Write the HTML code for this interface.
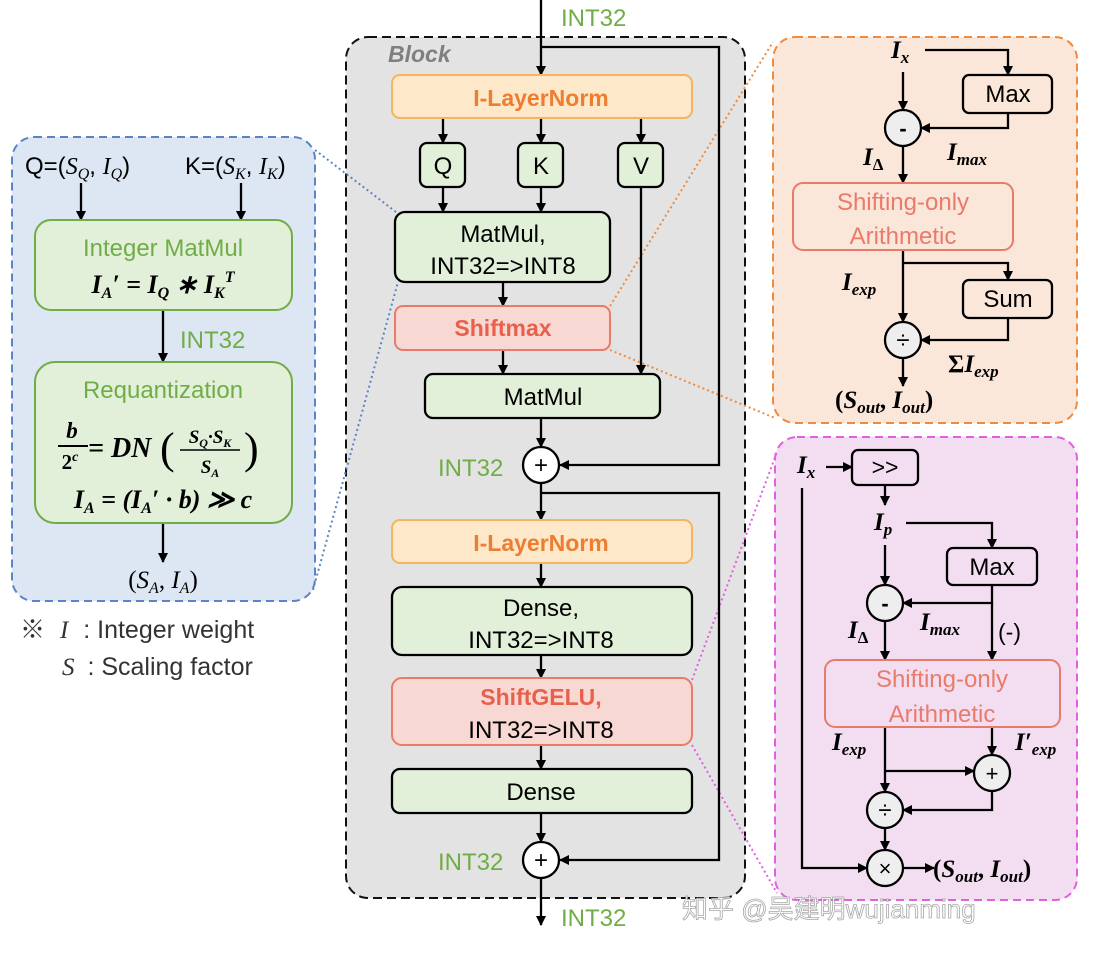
<!DOCTYPE html>
<html><head><meta charset="utf-8"><style>
html,body{margin:0;padding:0;background:#fff;}
svg{display:block;}
text{font-family:"Liberation Sans","Noto Sans CJK SC",sans-serif;}
.m{font-family:"Liberation Serif",serif;font-style:italic;}
.s{font-family:"Liberation Serif",serif;}
</style></head><body>
<svg width="1094" height="956" viewBox="0 0 1094 956" xmlns="http://www.w3.org/2000/svg">
<defs>
<marker id="a" markerWidth="10" markerHeight="10" refX="9" refY="5" orient="auto" markerUnits="userSpaceOnUse"><path d="M0,0 L10,5 L0,10 z" fill="#000"/></marker>
</defs>
<g stroke-width="2" fill="none">
<rect x="12" y="137" width="303" height="464" rx="22" fill="#dde6f3" stroke="#5b84c4" stroke-dasharray="8,5"/>
<rect x="346" y="37" width="399" height="861" rx="22" fill="#e3e3e3" stroke="#111" stroke-dasharray="9,5"/>
<rect x="773" y="37" width="304" height="386" rx="22" fill="#fbe6da" stroke="#ef8a3e" stroke-dasharray="8,5"/>
<rect x="775" y="437" width="302" height="463" rx="22" fill="#f2def0" stroke="#e060e0" stroke-dasharray="8,5"/>
<line x1="315" y1="150" x2="396" y2="212" stroke="#5b84c4" stroke-dasharray="2,3"/>
<line x1="313" y1="590" x2="398" y2="282" stroke="#5b84c4" stroke-dasharray="2,3"/>
<line x1="610" y1="306" x2="773" y2="42" stroke="#ef8a3e" stroke-dasharray="2,3"/>
<line x1="610" y1="350" x2="775" y2="418" stroke="#ef8a3e" stroke-dasharray="2,3"/>
<line x1="692" y1="680" x2="777" y2="452" stroke="#e060e0" stroke-dasharray="2,3"/>
<line x1="692" y1="745" x2="777" y2="893" stroke="#e060e0" stroke-dasharray="2,3"/>
</g>
<g stroke="#000" stroke-width="2.3" fill="none">
<line x1="541" y1="0" x2="541" y2="75" marker-end="url(#a)"/>
<polyline points="541,47 719,47 719,465 560,465" marker-end="url(#a)"/>
<line x1="443" y1="118" x2="443" y2="143" marker-end="url(#a)"/>
<line x1="541" y1="118" x2="541" y2="143" marker-end="url(#a)"/>
<line x1="641" y1="118" x2="641" y2="143" marker-end="url(#a)"/>
<line x1="443" y1="187" x2="443" y2="212" marker-end="url(#a)"/>
<line x1="541" y1="187" x2="541" y2="212" marker-end="url(#a)"/>
<line x1="641" y1="187" x2="641" y2="374" marker-end="url(#a)"/>
<line x1="503" y1="282" x2="503" y2="306" marker-end="url(#a)"/>
<line x1="503" y1="350" x2="503" y2="374" marker-end="url(#a)"/>
<line x1="541" y1="418" x2="541" y2="447" marker-end="url(#a)"/>
<line x1="541" y1="483" x2="541" y2="520" marker-end="url(#a)"/>
<polyline points="541,493 719,493 719,860 560,860" marker-end="url(#a)"/>
<line x1="541" y1="563" x2="541" y2="587" marker-end="url(#a)"/>
<line x1="541" y1="655" x2="541" y2="678" marker-end="url(#a)"/>
<line x1="541" y1="745" x2="541" y2="769" marker-end="url(#a)"/>
<line x1="541" y1="813" x2="541" y2="842" marker-end="url(#a)"/>
<line x1="541" y1="878" x2="541" y2="925" marker-end="url(#a)"/>
</g>
<rect x="392" y="75" width="300" height="43" rx="8" fill="#fde9c9" stroke="#f5b45e" stroke-width="2"/>
<text x="541" y="106" font-size="23" font-weight="bold" fill="#ed7d31" text-anchor="middle">I-LayerNorm</text>
<g fill="#e2f0d9" stroke="#000" stroke-width="2.3">
<rect x="420" y="143" width="45" height="44" rx="7"/>
<rect x="518" y="143" width="45" height="44" rx="7"/>
<rect x="618" y="143" width="45" height="44" rx="7"/>
<rect x="395" y="212" width="215" height="70" rx="10"/>
<rect x="425" y="374" width="235" height="44" rx="8"/>
<rect x="392" y="587" width="300" height="68" rx="10"/>
<rect x="392" y="769" width="300" height="44" rx="8"/>
</g>
<g font-size="24" text-anchor="middle" fill="#000">
<text x="443" y="174">Q</text><text x="541" y="174">K</text><text x="641" y="174">V</text>
<text x="503" y="242">MatMul,</text><text x="503" y="274">INT32=&gt;INT8</text>
<text x="543" y="405">MatMul</text>
<text x="541" y="616">Dense,</text><text x="541" y="648">INT32=&gt;INT8</text>
<text x="541" y="800">Dense</text>
</g>
<rect x="395" y="306" width="215" height="44" rx="8" fill="#f8d8d2" stroke="#ea7a6a" stroke-width="2"/>
<text x="503" y="336" font-size="23" font-weight="bold" fill="#e8604c" text-anchor="middle">Shiftmax</text>
<rect x="392" y="520" width="300" height="43" rx="8" fill="#fde9c9" stroke="#f5b45e" stroke-width="2"/>
<text x="541" y="551" font-size="23" font-weight="bold" fill="#ed7d31" text-anchor="middle">I-LayerNorm</text>
<rect x="392" y="678" width="300" height="67" rx="10" fill="#f8d8d2" stroke="#ea7a6a" stroke-width="2"/>
<text x="541" y="705" font-size="23" font-weight="bold" fill="#e8604c" text-anchor="middle">ShiftGELU,</text>
<text x="541" y="738" font-size="24" fill="#000" text-anchor="middle">INT32=&gt;INT8</text>
<g fill="#fff" stroke="#000" stroke-width="2.3"><circle cx="541" cy="465" r="18"/><circle cx="541" cy="860" r="18"/></g>
<g font-size="24" text-anchor="middle"><text x="541" y="473">+</text><text x="541" y="868">+</text></g>
<text x="388" y="62" font-size="23" font-weight="bold" font-style="italic" fill="#7f7f7f">Block</text>
<g font-size="24" fill="#70ad47">
<text x="561" y="26">INT32</text><text x="438" y="476">INT32</text><text x="438" y="870">INT32</text><text x="561" y="926">INT32</text>
</g>
<g stroke="#000" stroke-width="2.3" fill="none">
<line x1="81" y1="183" x2="81" y2="220" marker-end="url(#a)"/>
<line x1="241" y1="183" x2="241" y2="220" marker-end="url(#a)"/>
<line x1="163" y1="310" x2="163" y2="362" marker-end="url(#a)"/>
<line x1="163" y1="523" x2="163" y2="562" marker-end="url(#a)"/>
</g>
<rect x="35" y="220" width="257" height="90" rx="16" fill="#e2f0d9" stroke="#70ad47" stroke-width="2"/>
<rect x="35" y="362" width="257" height="161" rx="20" fill="#e2f0d9" stroke="#70ad47" stroke-width="2"/>
<text x="25" y="174" font-size="24">Q=(<tspan class="m">S</tspan><tspan class="m" font-size="16" dy="5">Q</tspan><tspan dy="-5">, </tspan><tspan class="m">I</tspan><tspan class="m" font-size="16" dy="5">Q</tspan><tspan dy="-5">)</tspan></text>
<text x="185" y="174" font-size="24">K=(<tspan class="m">S</tspan><tspan class="m" font-size="16" dy="5">K</tspan><tspan dy="-5">, </tspan><tspan class="m">I</tspan><tspan class="m" font-size="16" dy="5">K</tspan><tspan dy="-5">)</tspan></text>
<text x="163" y="256" font-size="24" fill="#70ad47" text-anchor="middle">Integer MatMul</text>
<text x="163" y="293" font-size="26" class="m" text-anchor="middle" font-weight="bold">I<tspan font-size="16" dy="5">A</tspan><tspan dy="-5">′ = I</tspan><tspan font-size="16" dy="5">Q</tspan><tspan dy="-5"> ∗ I</tspan><tspan font-size="16" dy="5">K</tspan><tspan font-size="16" dy="-16">T</tspan></text>
<text x="180" y="348" font-size="24" fill="#70ad47">INT32</text>
<text x="163" y="398" font-size="24" fill="#70ad47" text-anchor="middle">Requantization</text>
<text x="72" y="438" font-size="23" class="m" text-anchor="middle" font-weight="bold">b</text>
<line x1="58" y1="446" x2="88" y2="446" stroke="#000" stroke-width="2"/>
<text x="70" y="469" font-size="21" class="s" text-anchor="middle" font-weight="bold">2<tspan class="m" font-size="14" dy="-8">c</tspan></text>
<text x="88" y="457" font-size="28" class="m" font-weight="bold">= DN</text>
<text x="160" y="463" font-size="44" class="s">(</text>
<text x="210" y="443" font-size="19" class="m" text-anchor="middle" font-weight="bold">S<tspan font-size="12" dy="4">Q</tspan><tspan dy="-4">·S</tspan><tspan font-size="12" dy="4">K</tspan></text>
<line x1="180" y1="450" x2="240" y2="450" stroke="#000" stroke-width="1.5"/>
<text x="210" y="473" font-size="19" class="m" text-anchor="middle" font-weight="bold">S<tspan font-size="12" dy="4">A</tspan></text>
<text x="244" y="463" font-size="44" class="s">)</text>
<text x="163" y="508" font-size="26" class="m" text-anchor="middle" font-weight="bold">I<tspan font-size="16" dy="5">A</tspan><tspan dy="-5" class="s"> = (</tspan>I<tspan font-size="16" dy="5">A</tspan><tspan dy="-5">′ · b</tspan><tspan class="s">) ≫ </tspan>c</text>
<text x="163" y="588" font-size="25" class="s" text-anchor="middle">(<tspan class="m">S</tspan><tspan class="m" font-size="16" dy="5">A</tspan><tspan dy="-5">, </tspan><tspan class="m">I</tspan><tspan class="m" font-size="16" dy="5">A</tspan><tspan dy="-5">)</tspan></text>
<text x="20" y="638" font-size="25" fill="#333">※ <tspan class="m" dx="8">I</tspan><tspan dx="8"> :  Integer weight</tspan></text>
<text x="62" y="675" font-size="25" fill="#333"><tspan class="m">S</tspan><tspan dx="6"> :  Scaling factor</tspan></text>
<g stroke="#000" stroke-width="2.3" fill="none">
<line x1="903" y1="72" x2="903" y2="110" marker-end="url(#a)"/>
<polyline points="925,50 1008,50 1008,75" marker-end="url(#a)"/>
<polyline points="1008,113 1008,128 921,128" marker-end="url(#a)"/>
<line x1="903" y1="146" x2="903" y2="183" marker-end="url(#a)"/>
<line x1="903" y1="250" x2="903" y2="322" marker-end="url(#a)"/>
<polyline points="903,263 1008,263 1008,280" marker-end="url(#a)"/>
<polyline points="1008,318 1008,340 921,340" marker-end="url(#a)"/>
<line x1="903" y1="358" x2="903" y2="386" marker-end="url(#a)"/>
</g>
<rect x="963" y="75" width="89" height="38" rx="6" fill="#fbe6da" stroke="#000" stroke-width="2.3"/>
<text x="1008" y="102" font-size="24" text-anchor="middle">Max</text>
<rect x="963" y="280" width="89" height="38" rx="6" fill="#fbe6da" stroke="#000" stroke-width="2.3"/>
<text x="1008" y="307" font-size="24" text-anchor="middle">Sum</text>
<rect x="793" y="183" width="220" height="67" rx="10" fill="#fbe6da" stroke="#ea7a6a" stroke-width="2"/>
<text x="903" y="210" font-size="24" fill="#ea7a6a" text-anchor="middle">Shifting-only</text>
<text x="903" y="244" font-size="24" fill="#ea7a6a" text-anchor="middle">Arithmetic</text>
<g fill="#eeeeee" stroke="#000" stroke-width="2.3"><circle cx="903" cy="128" r="18"/><circle cx="903" cy="340" r="18"/></g>
<text x="903" y="136" font-size="22" text-anchor="middle" font-weight="bold">-</text>
<text x="903" y="348" font-size="24" text-anchor="middle">÷</text>
<g font-size="25" font-weight="bold">
<text x="891" y="58" class="m">I<tspan font-size="17" dy="5">x</tspan></text>
<text x="863" y="165" class="m">I<tspan font-size="17" dy="5" font-style="normal">Δ</tspan></text>
<text x="947" y="160" class="m">I<tspan font-size="17" dy="5">max</tspan></text>
<text x="842" y="290" class="m">I<tspan font-size="17" dy="5">exp</tspan></text>
<text x="948" y="372" class="m"><tspan font-style="normal">Σ</tspan>I<tspan font-size="17" dy="5">exp</tspan></text>
<text x="835" y="408" class="m"><tspan font-style="normal">(</tspan>S<tspan font-size="17" dy="5">out</tspan><tspan dy="-5" font-style="normal">, </tspan>I<tspan font-size="17" dy="5">out</tspan><tspan dy="-5" font-style="normal">)</tspan></text>
</g>
<g stroke="#000" stroke-width="2.3" fill="none">
<line x1="826" y1="467" x2="852" y2="467" marker-end="url(#a)"/>
<line x1="885" y1="485" x2="885" y2="505" marker-end="url(#a)"/>
<polyline points="906,523 992,523 992,548" marker-end="url(#a)"/>
<line x1="885" y1="545" x2="885" y2="585" marker-end="url(#a)"/>
<polyline points="992,585 992,603 903,603" marker-end="url(#a)"/>
<line x1="992" y1="603" x2="992" y2="660" marker-end="url(#a)"/>
<line x1="885" y1="621" x2="885" y2="660" marker-end="url(#a)"/>
<line x1="885" y1="727" x2="885" y2="792" marker-end="url(#a)"/>
<polyline points="885,771 974,771" marker-end="url(#a)"/>
<line x1="992" y1="727" x2="992" y2="755" marker-end="url(#a)"/>
<polyline points="992,791 992,810 903,810" marker-end="url(#a)"/>
<line x1="885" y1="828" x2="885" y2="850" marker-end="url(#a)"/>
<polyline points="802,488 802,868 867,868" marker-end="url(#a)"/>
<line x1="903" y1="868" x2="934" y2="868" marker-end="url(#a)"/>
</g>
<rect x="852" y="450" width="66" height="35" rx="6" fill="#f2def0" stroke="#000" stroke-width="2.3"/>
<text x="885" y="475" font-size="23" text-anchor="middle">&gt;&gt;</text>
<rect x="947" y="548" width="90" height="37" rx="6" fill="#f2def0" stroke="#000" stroke-width="2.3"/>
<text x="992" y="575" font-size="24" text-anchor="middle">Max</text>
<rect x="825" y="660" width="235" height="67" rx="10" fill="#f2def0" stroke="#ea7a6a" stroke-width="2"/>
<text x="942" y="687" font-size="24" fill="#ea7a6a" text-anchor="middle">Shifting-only</text>
<text x="942" y="722" font-size="24" fill="#ea7a6a" text-anchor="middle">Arithmetic</text>
<g fill="#eeeeee" stroke="#000" stroke-width="2.3"><circle cx="885" cy="603" r="18"/><circle cx="992" cy="773" r="18"/><circle cx="885" cy="810" r="18"/><circle cx="885" cy="868" r="18"/></g>
<g font-size="22" text-anchor="middle"><text x="885" y="611" font-weight="bold">-</text><text x="992" y="781">+</text><text x="885" y="818" font-size="24">÷</text><text x="885" y="876">×</text></g>
<g font-size="25" font-weight="bold">
<text x="797" y="473" class="m">I<tspan font-size="17" dy="5">x</tspan></text>
<text x="874" y="530" class="m">I<tspan font-size="17" dy="5">p</tspan></text>
<text x="848" y="638" class="m">I<tspan font-size="17" dy="5" font-style="normal">Δ</tspan></text>
<text x="920" y="630" class="m">I<tspan font-size="17" dy="5">max</tspan></text>
<text x="998" y="640" font-size="23" font-weight="normal">(-)</text>
<text x="832" y="750" class="m">I<tspan font-size="17" dy="5">exp</tspan></text>
<text x="1015" y="750" class="m">I′<tspan font-size="17" dy="5">exp</tspan></text>
<text x="933" y="877" class="m"><tspan font-style="normal">(</tspan>S<tspan font-size="17" dy="5">out</tspan><tspan dy="-5" font-style="normal">, </tspan>I<tspan font-size="17" dy="5">out</tspan><tspan dy="-5" font-style="normal">)</tspan></text>
</g>
<text x="682" y="918" font-size="26" fill="#ffffff" stroke="#999" stroke-width="0.8" opacity="0.85">知乎 @吴建明wujianming</text>
</svg>
</body></html>
